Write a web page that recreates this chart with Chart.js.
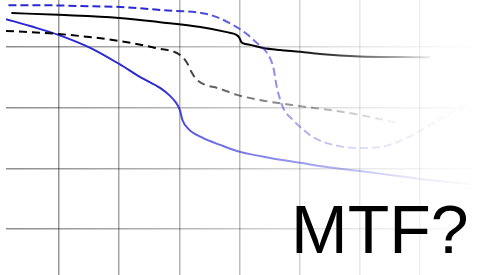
<!DOCTYPE html>
<html>
<head>
<meta charset="utf-8">
<script src="https://cdn.jsdelivr.net/npm/chart.js@4.4.0/dist/chart.umd.min.js"></script>
<style>
  body { margin: 0; background: #fff; }
  #wrap { position: relative; width: 479px; height: 275px; }
  #titulo {
    position: absolute; left: 291px; top: 195px;
    font-family: "Liberation Sans", Arial, sans-serif;
    font-size: 68px; line-height: 68px; color: #000;
  }
</style>
</head>
<body>
<div id="wrap">
  <canvas id="mtfChart"></canvas>
  <div id="titulo">MTF?</div>
</div>
<script>
// --- DADOS (frequência em lp/mm, contraste MTF) ---
const tangencialAberto = [ // azul tracejado
  {x: 1.6, y: 0.938}, {x: 6.9, y: 0.938}, {x: 13.5, y: 0.935}, {x: 20.2, y: 0.932},
  {x: 26.8, y: 0.922}, {x: 35.1, y: 0.906}, {x: 38.9, y: 0.873}, {x: 41.4, y: 0.840},
  {x: 42.9, y: 0.813}, {x: 43.9, y: 0.797}, {x: 45.6, y: 0.734}, {x: 46.2, y: 0.668},
  {x: 47.2, y: 0.602}, {x: 48.9, y: 0.559}, {x: 50.1, y: 0.536}, {x: 52.2, y: 0.503},
  {x: 54.5, y: 0.483}, {x: 57.5, y: 0.470}, {x: 60.0, y: 0.467}, {x: 63.4, y: 0.470},
  {x: 67.8, y: 0.500}, {x: 71.7, y: 0.543}, {x: 74.5, y: 0.576}, {x: 78.3, y: 0.615}
];
const sagitalFechado = [ // preto contínuo
  {x: 2.1, y: 0.912}, {x: 9.9, y: 0.906}, {x: 20.0, y: 0.896}, {x: 26.8, y: 0.882},
  {x: 33.5, y: 0.866}, {x: 37.9, y: 0.849}, {x: 39.5, y: 0.840}, {x: 40.0, y: 0.830},
  {x: 40.3, y: 0.816}, {x: 41.0, y: 0.810}, {x: 41.8, y: 0.807}, {x: 43.9, y: 0.797},
  {x: 46.7, y: 0.790}, {x: 50.1, y: 0.784}, {x: 53.4, y: 0.777}, {x: 56.7, y: 0.772},
  {x: 60.0, y: 0.769}, {x: 66.7, y: 0.767}, {x: 71.7, y: 0.766}
];
const sagitalAberto = [ // preto tracejado
  {x: 1.2, y: 0.853}, {x: 9.9, y: 0.843}, {x: 20.0, y: 0.820}, {x: 26.0, y: 0.797},
  {x: 30.1, y: 0.774}, {x: 31.3, y: 0.747}, {x: 32.0, y: 0.718}, {x: 32.8, y: 0.694},
  {x: 34.3, y: 0.675}, {x: 36.3, y: 0.665}, {x: 39.6, y: 0.642}, {x: 43.4, y: 0.625},
  {x: 50.1, y: 0.605}, {x: 55.1, y: 0.592}, {x: 60.0, y: 0.576}, {x: 66.3, y: 0.549}
];
const tangencialFechado = [ // azul contínuo
  {x: 1.2, y: 0.892}, {x: 5.2, y: 0.869}, {x: 9.9, y: 0.840}, {x: 15.2, y: 0.797},
  {x: 20.0, y: 0.744}, {x: 23.5, y: 0.701}, {x: 26.8, y: 0.665}, {x: 28.5, y: 0.638},
  {x: 29.5, y: 0.615}, {x: 30.1, y: 0.592}, {x: 30.5, y: 0.560}, {x: 31.5, y: 0.530},
  {x: 33.9, y: 0.500}, {x: 36.8, y: 0.477}, {x: 40.1, y: 0.454}, {x: 45.1, y: 0.434},
  {x: 50.1, y: 0.418}, {x: 54.5, y: 0.404}, {x: 60.0, y: 0.391}, {x: 65.0, y: 0.378},
  {x: 70.0, y: 0.365}, {x: 76.1, y: 0.352}, {x: 79.1, y: 0.345}
];

// Gradiente horizontal que esmaece a cor para a direita
function esmaecer(rgb, paradas) {
  return (context) => {
    const chart = context.chart;
    if (!chart.chartArea) return `rgba(${rgb},1)`;
    const g = chart.ctx.createLinearGradient(0, 0, chart.width, 0);
    paradas.forEach(([pos, a]) => g.addColorStop(pos, `rgba(${rgb},${a})`));
    return g;
  };
}

const azul = '40,40,212';
const preto = '0,0,0';

const ctx = document.getElementById('mtfChart').getContext('2d');
new Chart(ctx, {
  type: 'line',
  data: {
    datasets: [
      {
        data: tangencialAberto, borderDash: [8, 4], borderWidth: 2,
        borderColor: esmaecer(azul, [[0, 1], [0.33, 1], [0.5, 0.7], [0.6, 0.45], [0.75, 0.15], [0.92, 0.04], [1, 0]])
      },
      {
        data: sagitalFechado, borderWidth: 2,
        borderColor: esmaecer(preto, [[0, 1], [0.6, 1], [0.72, 0.7], [0.84, 0.3], [0.92, 0]])
      },
      {
        data: sagitalAberto, borderDash: [8, 5], borderWidth: 2,
        borderColor: esmaecer(preto, [[0, 1], [0.32, 1], [0.42, 0.65], [0.62, 0.4], [0.78, 0.12], [0.86, 0]])
      },
      {
        data: tangencialFechado, borderWidth: 2,
        borderColor: esmaecer(azul, [[0, 1], [0.33, 1], [0.42, 0.72], [0.62, 0.48], [0.85, 0.12], [1, 0]])
      }
    ]
  },
  options: {
    responsive: true,
    maintainAspectRatio: false,
    animation: false,
    layout: { padding: { left: 6, right: 0, top: 0, bottom: 0 } },
    elements: {
      point: { radius: 0 },
      line: { cubicInterpolationMode: 'monotone', fill: false }
    },
    plugins: { legend: { display: false }, tooltip: { enabled: false } },
    scales: {
      x: {
        type: 'linear', min: 1.2, max: 79.8,
        border: { display: false },
        ticks: { display: false, stepSize: 10, includeBounds: false },
        grid: {
          drawTicks: false, lineWidth: 1.5,
          color: esmaecer(preto, [[0, 0.45], [0.5, 0.26], [0.75, 0.09], [0.9, 0.05], [1, 0]])
        }
      },
      y: {
        type: 'linear', min: 0.048, max: 0.955,
        border: { display: false },
        ticks: { display: false, stepSize: 0.2, includeBounds: false },
        grid: {
          drawTicks: false, lineWidth: 1.5,
          color: esmaecer(preto, [[0, 0.45], [0.4, 0.28], [0.75, 0.09], [0.95, 0.02], [1, 0]])
        }
      }
    }
  }
});
</script>
</body>
</html>
